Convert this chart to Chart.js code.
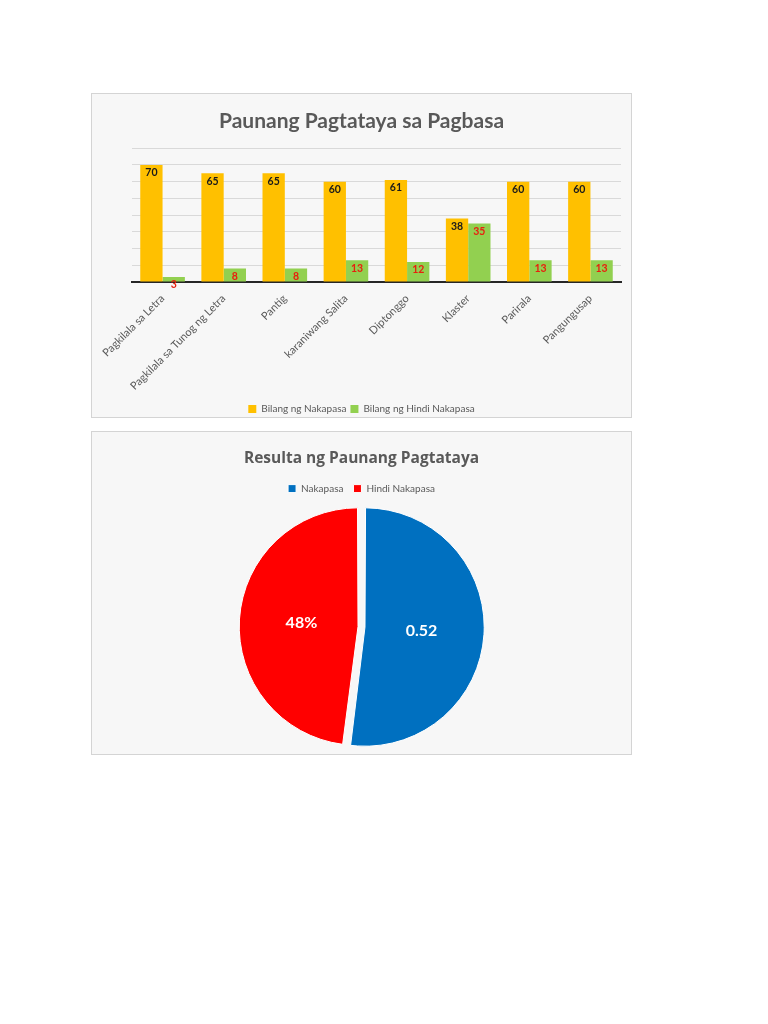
<!DOCTYPE html>
<html>
<head>
<meta charset="utf-8">
<script src="https://cdn.jsdelivr.net/npm/chart.js@4/dist/chart.umd.min.js"></script>
<style>
  body { margin: 0; background: #ffffff; width: 768px; height: 1024px; position: relative; }
  .box { position: absolute; left: 91px; width: 539px; background: #f7f7f7; border: 1px solid #d4d4d4; }
  #box1 { top: 93px; height: 323px; }
  #box2 { top: 431px; height: 322px; }
  canvas { display: block; }
</style>
</head>
<body>
<div class="box" id="box1"><canvas id="barChart" width="539" height="323"></canvas></div>
<div class="box" id="box2"><canvas id="pieChart" width="539" height="322"></canvas></div>
<script>
const categories = ['Pagkilala sa Letra', 'Pagkilala sa Tunog ng Letra', 'Pantig', 'karaniwang Salita', 'Diptonggo', 'Klaster', 'Parirala', 'Pangungusap'];
const nakapasa = [70, 65, 65, 60, 61, 38, 60, 60];
const hindiNakapasa = [3, 8, 8, 13, 12, 35, 13, 13];

const pieLabels = ['Nakapasa', 'Hindi Nakapasa'];
const pieValues = [52, 48];
const pieValueText = ['0.52', '48%'];

const fontFam = 'Lato, "Open Sans", sans-serif';

// labels drawn just under the top of each bar
const barLabels = {
  id: 'barLabels',
  afterDatasetsDraw(chart) {
    const ctx = chart.ctx;
    ctx.save();
    ctx.font = 'bold 10.5px ' + fontFam;
    ctx.textAlign = 'center';
    ctx.textBaseline = 'middle';
    chart.data.datasets.forEach((ds, i) => {
      chart.getDatasetMeta(i).data.forEach((bar, j) => {
        ctx.fillStyle = i === 0 ? '#1a1a1a' : '#e8200e';
        ctx.fillText(String(ds.data[j]), bar.x, bar.y + 8);
      });
    });
    ctx.restore();
  }
};

new Chart(document.getElementById('barChart').getContext('2d'), {
  type: 'bar',
  data: {
    labels: categories,
    datasets: [{
      label: 'Bilang ng Nakapasa',
      data: nakapasa,
      backgroundColor: '#ffc000'
    }, {
      label: 'Bilang ng Hindi Nakapasa',
      data: hindiNakapasa,
      backgroundColor: '#92d050'
    }]
  },
  options: {
    responsive: false,
    animation: false,
    categoryPercentage: 0.73,
    barPercentage: 1.0,
    layout: { padding: { left: 10, right: 10, bottom: -7 } },
    plugins: {
      title: {
        display: true,
        text: 'Paunang Pagtataya sa Pagbasa',
        color: '#595959',
        font: { family: fontFam, size: 21, weight: 'bold' },
        padding: { top: 15, bottom: 14 }
      },
      legend: {
        position: 'bottom',
        labels: {
          boxWidth: 8, boxHeight: 8, padding: 4,
          color: '#595959',
          font: { family: fontFam, size: 10 }
        }
      },
      tooltip: { enabled: false }
    },
    scales: {
      x: {
        grid: { display: false },
        border: { display: true, color: '#262626', width: 2 },
        ticks: {
          color: '#595959',
          font: { family: fontFam, size: 11 },
          minRotation: 45, maxRotation: 45,
          autoSkip: false, padding: 2
        },
        afterFit(scale) { scale.height = 118; }
      },
      y: {
        min: 0, max: 80,
        ticks: { display: false, stepSize: 10 },
        grid: { color: '#d9d9d9', drawTicks: false },
        border: { display: false },
        afterFit(scale) { scale.width = 30; }
      }
    }
  },
  plugins: [barLabels]
});

const pieText = {
  id: 'pieText',
  afterDatasetsDraw(chart) {
    const ctx = chart.ctx;
    ctx.save();
    ctx.font = 'bold 16px ' + fontFam;
    ctx.fillStyle = '#ffffff';
    ctx.textAlign = 'center';
    ctx.textBaseline = 'middle';
    chart.getDatasetMeta(0).data.forEach((arc, i) => {
      const mid = (arc.startAngle + arc.endAngle) / 2;
      const r = arc.outerRadius * 0.52;
      ctx.fillText(pieValueText[i], arc.x + Math.cos(mid) * r, arc.y + Math.sin(mid) * r);
    });
    ctx.restore();
  }
};

new Chart(document.getElementById('pieChart').getContext('2d'), {
  type: 'pie',
  data: {
    labels: pieLabels,
    datasets: [{
      data: pieValues,
      backgroundColor: ['#0070c0', '#ff0000'],
      borderColor: '#ffffff',
      borderWidth: 1,
      offset: 14
    }]
  },
  options: {
    responsive: false,
    animation: false,
    layout: { padding: { bottom: 4 } },
    plugins: {
      title: {
        display: true,
        text: 'Resulta ng Paunang Pagtataya',
        color: '#595959',
        font: { family: '"Open Sans", sans-serif', size: 15.5, weight: 'bold' },
        padding: { top: 17, bottom: 6 }
      },
      legend: {
        position: 'top',
        labels: {
          boxWidth: 8, boxHeight: 8, padding: 10,
          color: '#595959',
          font: { family: fontFam, size: 10 }
        }
      },
      tooltip: { enabled: false }
    }
  },
  plugins: [pieText]
});
</script>
</body>
</html>
